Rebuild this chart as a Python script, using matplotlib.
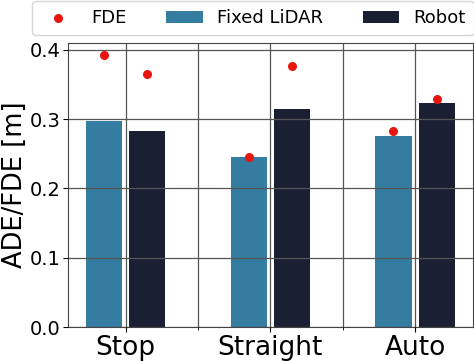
import matplotlib
matplotlib.use("Agg")
import matplotlib.pyplot as plt
import numpy as np
from matplotlib.ticker import MultipleLocator

categories = ["Stop", "Straight", "Auto"]
fixed_lidar = [0.297, 0.246, 0.276]
robot = [0.283, 0.315, 0.323]
fde_fixed = [0.393, 0.245, 0.283]
fde_robot = [0.365, 0.377, 0.329]

fig = plt.figure(figsize=(4.74, 3.61), dpi=100)
ax = fig.add_axes([0.143, 0.094, 0.855, 0.787])

x = np.arange(len(categories))
w = 0.25
off = 0.15
c_fixed = "#357ca1"
c_robot = "#1a1f33"
ax.bar(x - off, fixed_lidar, w, color=c_fixed, label="Fixed LiDAR", zorder=1)
ax.bar(x + off, robot, w, color=c_robot, label="Robot", zorder=1)
ax.scatter(np.concatenate([x - off, x + off]), fde_fixed + fde_robot, s=30,
           color="#e8150e", zorder=3, label="FDE")

ax.set_xlim(-0.4, 2.4)
ax.set_ylim(0, 0.41)
ax.set_xticks(x)
ax.set_xticklabels(categories, fontsize=19)
ax.tick_params(axis="x", pad=2)
ax.xaxis.set_minor_locator(MultipleLocator(0.5))
ax.yaxis.set_major_locator(MultipleLocator(0.1))
ax.tick_params(axis="y", labelsize=14, pad=2)
ax.grid(True, which="both", color="#555555", linewidth=0.9, zorder=2)
ax.set_axisbelow(False)
for s in ax.spines.values():
    s.set_color("#444444")
ax.set_ylabel("ADE/FDE [m]", fontsize=18.5, labelpad=1)

h, l = ax.get_legend_handles_labels()
fig.legend(h, l, ncol=3, fontsize=13,
           loc="upper left", bbox_to_anchor=(0.068, 0.997, 0.932, 0.0), mode="expand",
           handlelength=2.0, borderaxespad=0.0, borderpad=0.45, frameon=True)

fig.savefig("out.png", dpi=100)
